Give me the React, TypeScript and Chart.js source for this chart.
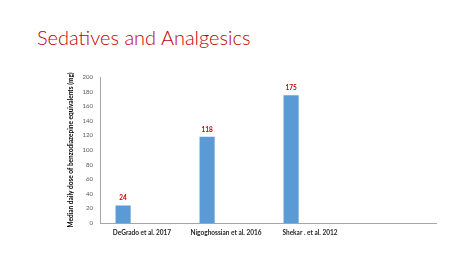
import React, { useEffect, useRef } from "react";
import { Chart, registerables } from "chart.js";

Chart.register(...registerables);

const categories = ["DeGrado et al. 2017", "Nigoghossian et al. 2016", "Shekar . et al. 2012", ""];
const doseValues = [24, 118, 175, null];
const emptySeries = [null, null, null, null];
const yTicks = [0, 20, 40, 60, 80, 100, 120, 140, 160, 180, 200];

const labelPlugin = {
  id: "valueLabels",
  afterDatasetsDraw(chart: any) {
    const ctx = chart.ctx;
    const meta = chart.getDatasetMeta(0);
    ctx.save();
    ctx.fillStyle = "#C00000";
    ctx.font = "bold 6.5px Lato";
    ctx.textAlign = "center";
    ctx.textBaseline = "bottom";
    meta.data.forEach((bar: any, i: number) => {
      const v = doseValues[i];
      if (v == null) return;
      ctx.fillText(String(v), bar.x, bar.y - 4);
    });
    ctx.restore();
  },
};

export default function App() {
  const ref = useRef<HTMLCanvasElement>(null);
  useEffect(() => {
    if (!ref.current) return;
    const chart = new Chart(ref.current, {
      type: "bar",
      data: {
        labels: categories,
        datasets: [
          { data: doseValues as any, backgroundColor: "#5B9BD5", categoryPercentage: 0.9, barPercentage: 0.4 },
          { data: emptySeries as any, backgroundColor: "#ED7D31", categoryPercentage: 0.9, barPercentage: 0.4 },
        ],
      },
      options: {
        animation: false,
        responsive: false,
        maintainAspectRatio: false,
        layout: { padding: { left: 62, right: 38, top: 77, bottom: 23 } },
        plugins: { legend: { display: false }, tooltip: { enabled: false } },
        scales: {
          x: {
            grid: { display: false, drawTicks: false },
            border: { color: "#A6A6A6" },
            ticks: { color: "#262626", font: { family: "Lato", size: 6.5, weight: "bold" }, padding: 6, maxRotation: 0, autoSkip: false },
            afterFit: (s: any) => { s.height = 20; },
          },
          y: {
            min: 0,
            max: 200,
            afterBuildTicks: (s: any) => { s.ticks = yTicks.map((v) => ({ value: v })); },
            grid: { display: false, drawTicks: false },
            border: { color: "#A6A6A6" },
            ticks: { color: "#595959", font: { family: "Lato", size: 6 }, padding: 7 },
            title: {
              display: true,
              text: "Median daily dose of benzodiazepine equivalents (mg)",
              color: "#000000",
              font: { family: "Lato", size: 6.5, weight: "bold" },
              padding: { top: 5, bottom: 0 },
            },
            afterFit: (s: any) => { s.width = 38; },
          },
        },
      },
      plugins: [labelPlugin],
    });
    return () => chart.destroy();
  }, []);
  return (
    <div style={{ position: "fixed", left: 0, top: 0, width: 474, height: 266, background: "#fff" }}>
      <div
        style={{
          position: "absolute",
          left: 37,
          top: 25,
          fontFamily: "Lato",
          fontWeight: 300,
          fontSize: 20,
          color: "#C00000",
          whiteSpace: "nowrap",
        }}
      >
        Sedatives and Analgesics
      </div>
      <canvas ref={ref} width={474} height={266} style={{ position: "absolute", left: 0, top: 0 }} />
    </div>
  );
}
